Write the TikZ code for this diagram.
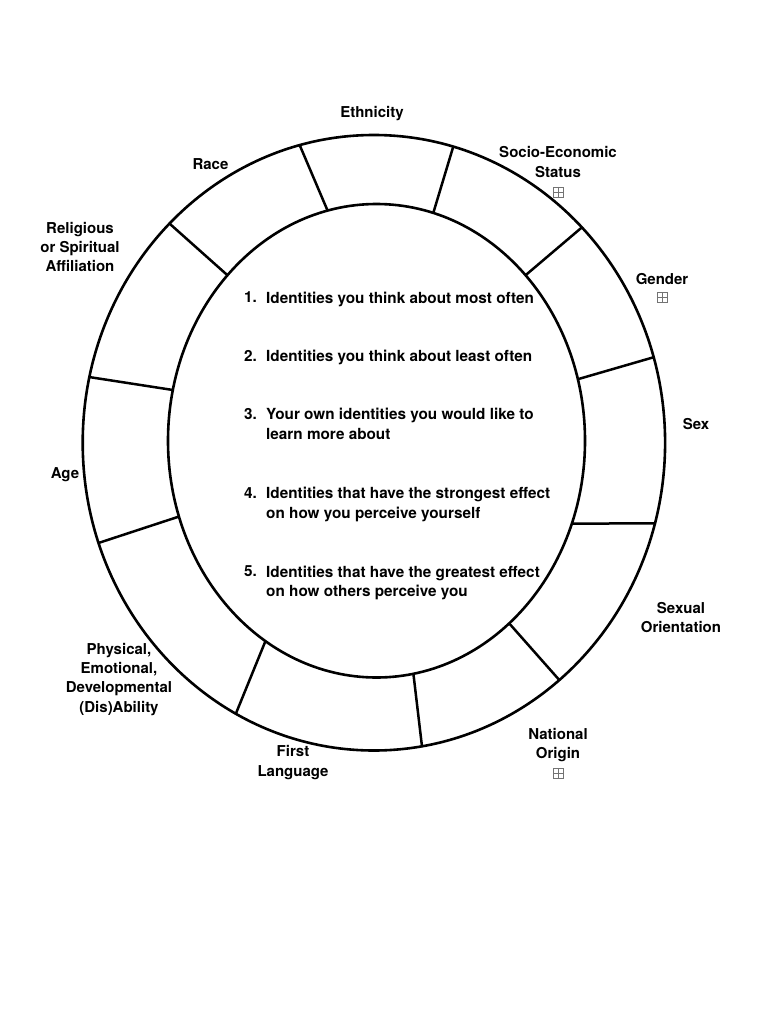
\documentclass[tikz,border=0pt]{standalone}
\usepackage{fontspec}
\setmainfont{TeX Gyre Heros}
\usetikzlibrary{shapes.geometric,positioning}

\tikzset{
  ring/.style={draw, ellipse, line width=2.6pt, inner sep=0pt, outer sep=0pt},
  divider/.style={line width=2.5pt},
  idlabel/.style={anchor=north, align=center, inner sep=0pt,
    font=\fontsize{15}{19.3}\selectfont\bfseries},
  itemnum/.style={anchor=north west, inner sep=0pt,
    font=\fontsize{15.3}{19.3}\selectfont\bfseries},
  itemtext/.style={anchor=north west, align=left, inner sep=0pt,
    font=\fontsize{15.3}{19.3}\selectfont\bfseries},
  plusbox/.style={draw=black!55, line width=0.7pt, minimum size=10pt, inner sep=0pt,
    path picture={\draw[black!55, line width=0.7pt]
      (path picture bounding box.north) -- (path picture bounding box.south)
      (path picture bounding box.west) -- (path picture bounding box.east);}}
}

\begin{document}
\begin{tikzpicture}[x=1pt, y=-1pt]
\useasboundingbox[fill=white] (0,0) rectangle (768,1024);

% Identity wheel
\node[ring, minimum width=582.4pt, minimum height=615.5pt] (outer) at (373.9,442.75) {};
\node[ring, minimum width=417pt, minimum height=473.5pt] (inner) at (376.5,440.75) {};

% Segment dividers (outer angle / inner angle)
\foreach \a/\b in {104.4/102.0, 133.7/132.1, 75.4/76.1, 46.5/48.0, 17.0/17.2,
                   344.2/337.9, 308.4/306.8, 279.2/279.3, 243.8/241.1,
                   200.7/201.9, 167.2/166.1}
    \draw[divider] (node cs:name=outer, angle=\a) -- (node cs:name=inner, angle=\b);

% Identity labels around the wheel
\node[idlabel] (ethnicity) at (372,106) {Ethnicity};
\node[idlabel] (race) at (210.5,158) {Race};
\node[idlabel] (religion) at (80,222) {Religious\\or Spiritual\\Affiliation};
\node[idlabel] (ses) at (558,146.5) {Socio-Economic\\Status};
\node[plusbox] (sesbox) at (558,192) {};
\node[idlabel] (gender) at (662,273.5) {Gender};
\node[plusbox] (genderbox) at (662,297) {};
\node[idlabel] (sex) at (696,418) {Sex};
\node[idlabel] (age) at (65,467) {Age};
\node[idlabel] (orientation) at (681,602) {Sexual\\Orientation};
\node[idlabel] (origin) at (558,728) {National\\Origin};
\node[plusbox] (originbox) at (558,773) {};
\node[idlabel] (language) at (293,745.5) {First\\Language};
\node[idlabel] (ability) at (119,643) {Physical,\\Emotional,\\Developmental\\(Dis)Ability};

% Questions inside the wheel
\node[itemnum] (n1) at (244,291.5) {1.};
\node[itemtext] (t1) at (266,291.5) {Identities you think about most often};
\node[itemnum] (n2) at (244,350) {2.};
\node[itemtext] (t2) at (266,350) {Identities you think about least often};
\node[itemnum] (n3) at (244,408.3) {3.};
\node[itemtext] (t3) at (266,408.3) {Your own identities you would like to\\learn more about};
\node[itemnum] (n4) at (244,487.3) {4.};
\node[itemtext] (t4) at (266,487.3) {Identities that have the strongest effect\\on how you perceive yourself};
\node[itemnum] (n5) at (244,565.7) {5.};
\node[itemtext] (t5) at (266,565.7) {Identities that have the greatest effect\\on how others perceive you};

\end{tikzpicture}
\end{document}
